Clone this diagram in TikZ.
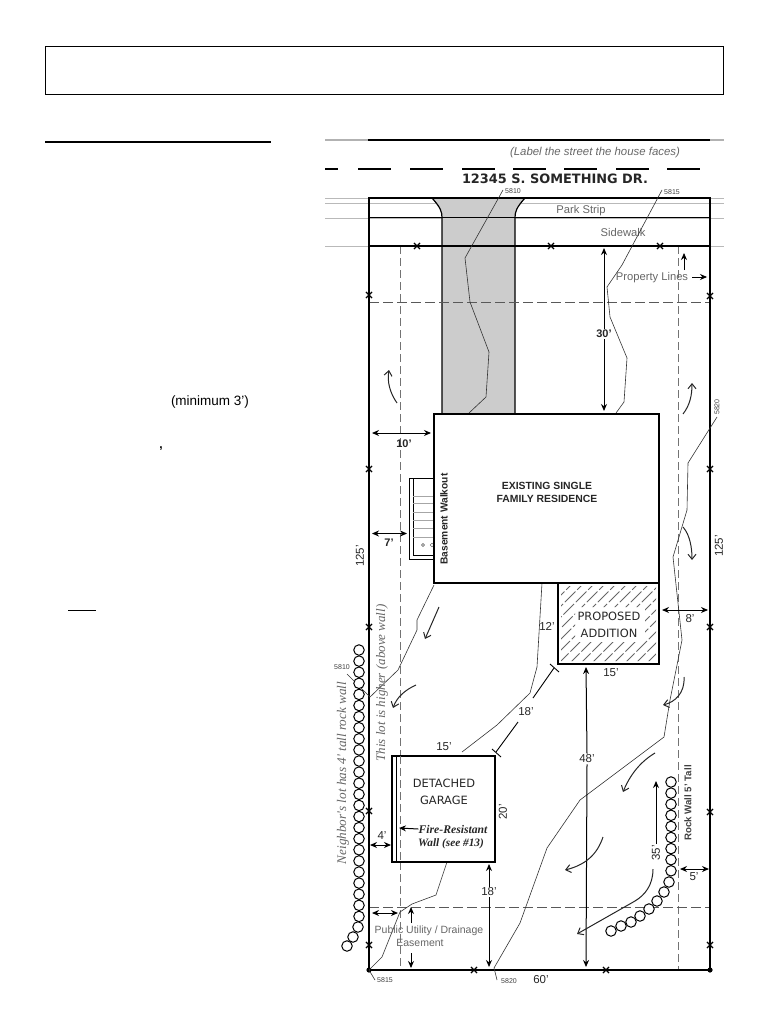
\documentclass[tikz,border=0pt]{standalone}
\usepackage{fontspec}
\setmainfont{Liberation Sans}
\newfontfamily\serifit{Liberation Serif}
\newfontfamily\sketchfont{DejaVu Sans}
\usetikzlibrary{arrows.meta}
\usetikzlibrary{shapes.misc}
\tikzset{>={Stealth[length=7pt,width=6pt]},
	lotline/.style={line width=1.8pt},
	setback/.style={dash pattern=on 8pt off 4pt, black!55, line width=.8pt},
	setbackh/.style={dash pattern=on 10pt off 4pt, black!65, line width=.8pt},
	contour/.style={line width=.6pt, black!80},
	dimline/.style={<->, line width=1pt},
	oneway/.style={->, line width=1pt},
	flow/.style={-{Straight Barb[length=5pt,width=8pt]}, line width=1pt, black!85}
}
\tikzstyle{xmark} = [draw, cross out, line width=1.1pt, minimum size=5pt, inner sep=0pt]
\tikzstyle{rock} = [draw, circle, line width=1pt, minimum size=10.5pt, inner sep=0pt, fill=white]
\tikzstyle{dimtext} = [font=\fontsize{11.5}{13}\selectfont, inner sep=1pt, text=black!85]
\tikzstyle{dimbold} = [font=\fontsize{11}{13}\selectfont\bfseries, inner sep=1pt, text=black!85]
\tikzstyle{graytext} = [font=\fontsize{11.2}{13}\selectfont, inner sep=1pt, text=black!60]
\tikzstyle{smalltext} = [font=\fontsize{7}{8}\selectfont, inner sep=0pt, text=black!75]
\tikzstyle{sketchtext} = [font=\sketchfont\fontsize{11.4}{13}\selectfont, inner sep=0pt, text=black!85]
\begin{document}
\begin{tikzpicture}[x=1pt,y=-1pt]
	\useasboundingbox (0,0) rectangle (768,1024);
	
	% left column
	\draw[line width=.9pt] (45.5,46) rectangle (723.5,94);
	\draw[line width=1.8pt] (45,142) -- (271,142);
	\node[font=\fontsize{13.5}{15}\selectfont, inner sep=0pt] (minimum) at (210,402) {(minimum 3')};
	\node[font=\fontsize{12}{14}\selectfont\bfseries, inner sep=0pt] (comma) at (161,449) {,};
	\draw[line width=.9pt] (68,610) -- (96,610);
	
	% street
	\draw[gray!60, line width=1.6pt] (325,140) -- (724,140);
	\draw[line width=2pt] (368,140) -- (710,140);
	\node[graytext, font=\fontsize{11.4}{13}\selectfont\itshape] (faces) at (595,153) {(Label the street the house faces)};
	\draw[line width=1.2pt] (325,169) -- (338,169);
	\foreach \sx in {358,410,462,513,564,616,667}
		\draw[line width=1.2pt] (\sx,169) -- ++(33,0);
	\node[sketchtext, font=\sketchfont\bfseries\fontsize{12.9}{14}\selectfont] (street) at (555,179) {12345 S. SOMETHING DR.};
	
	% gray lines past the lot
	\foreach \ly in {198,203,218,246}
		\draw[gray!55, line width=.8pt] (325,\ly) -- (724,\ly);
	
	% driveway
	\draw[fill=gray!40, draw=none] (432,198) .. controls (441,208) and (442,212) .. (442,218) -- (442,414) -- (515,414) -- (515,218) .. controls (515,212) and (516,208) .. (525,198) -- cycle;
	\draw[line width=1.2pt] (432,198) .. controls (441,208) and (442,212) .. (442,218) -- (442,414);
	\draw[line width=1.2pt] (525,198) .. controls (516,208) and (515,212) .. (515,218) -- (515,414);
	
	% setback lines
	\draw[setback] (400,246) -- (400,756);
	\draw[setback] (400,862) -- (400,970);
	\draw[setback] (678,246) -- (678,970);
	\draw[setbackh] (369,302) -- (710,302);
	\draw[setbackh] (369,907) -- (710,907);
	
	% lot
	\draw[lotline] (369,198) rectangle (710,970);
	\draw[line width=1pt] (369,218) -- (710,218);
	\draw[lotline] (369,246) -- (710,246);
	\foreach \mx/\my in {417/246,551/246,660/246,369/295,710/296,369/469,710/469,369/627,710/627,369/811,710/812,369/945,710/945,474/970,606/970}
		\node[xmark] (x\mx\my) at (\mx,\my) {};
	\fill (369,970) circle (2.6pt);
	\fill (710,970) circle (2.6pt);
	\node[graytext] (park) at (581,211) {Park Strip};
	\node[graytext] (walk) at (623,232) {Sidewalk};
	
	% contours
	\draw[contour] (503,190) -- (465,258) -- (470,302) -- (489,352) -- (486,397) -- (469,413);
	\draw[contour] (434,585) -- (417,620) -- (417,630) -- (398,670) -- (370,697) -- (347,674);
	\draw[contour] (662,190) -- (622,265) -- (607,287) -- (610,317) -- (627,358) -- (624,402) -- (616,413);
	\draw[contour] (542,583) -- (537,667) -- (530,693) -- (497,725) -- (462,752);
	\draw[contour] (447,862) -- (436,895) -- (412,904) -- (400,912) -- (382,957) -- (369,970) -- (375,980);
	\draw[contour] (717,417) -- (688,463) -- (687,510) -- (673,557) -- (682,640) -- (670,700) -- (664,737) -- (580,800) -- (547,848) -- (520,923) -- (494,968) -- (497,980);
	\node[smalltext] (c5810a) at (513,191) {5810};
	\node[smalltext] (c5815a) at (672,192) {5815};
	\node[smalltext, rotate=90] (c5820a) at (717,407) {5820};
	\node[smalltext] (c5810b) at (342,667) {5810};
	\node[smalltext] (c5815b) at (385,980) {5815};
	\node[smalltext] (c5820b) at (509,981) {5820};
	
	% stairs
	\draw[line width=.7pt, fill=white] (434,478) -- (409,478) -- (409,559) -- (434,559);
	\draw[line width=.7pt] (434,478) -- (413,478) -- (413,555) -- (434,555);
	\foreach \sy in {496,503,512,520,528,537}
		\draw[gray!70, line width=.5pt] (413,\sy) -- (434,\sy);
	\draw[black!70, line width=.4pt] (423,545) circle (1.5pt);
	\draw[black!70, line width=.4pt] (432,545) circle (1.8pt);
	
	% buildings
	\node[draw, line width=2pt, minimum width=225pt, minimum height=169pt, inner sep=0pt] (house) at (546.5,498.5) {};
	\node[font=\fontsize{10.4}{12}\selectfont\bfseries, inner sep=0pt, text=black!85] (exist1) at (547,486) {EXISTING SINGLE};
	\node[font=\fontsize{10.4}{12}\selectfont\bfseries, inner sep=0pt, text=black!85, below of=exist1, node distance=13pt] (exist2) {FAMILY RESIDENCE};
	\node[font=\fontsize{10.2}{11}\selectfont\bfseries, inner sep=0pt, rotate=90, text=black!85] (walkout) at (444,519) {Basement Walkout};
	
	\begin{scope}[even odd rule]
		\clip (561,586) rectangle (656,661) (575,607) rectangle (645,642);
		\foreach \hx in {0,...,17}
			\draw[black!60, line width=.8pt, dash pattern=on 15pt off 2.5pt] ({470+11*\hx},664) -- ++(100,-100);
	\end{scope}
	\node[draw, line width=2pt, minimum width=101pt, minimum height=81pt, inner sep=0pt] (addition) at (608.5,623.5) {};
	\node[sketchtext] (prop1) at (609,616) {PROPOSED};
	\node[sketchtext, below of=prop1, node distance=17pt] (prop2) {ADDITION};
	
	\node[draw, line width=2pt, minimum width=103pt, minimum height=106pt, inner sep=0pt] (garage) at (443.5,809) {};
	\draw[line width=.9pt] (396,756) -- (396,862);
	\draw[setback] (400,756) -- (400,862);
	\node[sketchtext] (det1) at (444,783) {DETACHED};
	\node[sketchtext, below of=det1, node distance=17pt] (det2) {GARAGE};
	\node[font=\serifit\itshape\bfseries\fontsize{11.7}{13}\selectfont, inner sep=0pt, text=black!85] (fire1) at (453,829) {Fire-Resistant};
	\node[font=\serifit\itshape\bfseries\fontsize{11.3}{13}\selectfont, inner sep=0pt, text=black!85] (fire2) at (451,844) {Wall (see \#13)};
	\draw[oneway] (fire1.west) -- (399,828);
	
	% rock walls
	\foreach \i in {0,...,24}
		\node[rock] (wallL\i) at (359,{650+11.1*\i}) {};
	\node[rock] (wallLa) at (358,927) {};
	\node[rock] (wallLb) at (353,937) {};
	\node[rock] (wallLc) at (347,946) {};
	\foreach \i in {0,...,8}
		\node[rock] (wallR\i) at (671,{782+11.1*\i}) {};
	\foreach \rx/\ry in {669/882,664/892,657/901,649/909,640/916,631/922,621/926,611/931}
		\node[rock] (wallR\rx) at (\rx,\ry) {};
	
	% dimensions
	\node[dimbold] (d30) at (604,334) {30'};
	\draw[oneway] (d30.north) -- (604,248);
	\draw[oneway] (d30.south) -- (604,411);
	\draw[dimline] (372,433) -- (431,433);
	\node[dimbold] (d10) at (404,444) {10'};
	\draw[dimline] (372,533.5) -- (407,533.5);
	\node[dimbold] (d7) at (389,543) {7'};
	\node[dimtext, rotate=90] (d125a) at (360,556) {125'};
	\node[dimtext, rotate=90] (d125b) at (719,546) {125'};
	\draw[dimline] (662,610) -- (708,610);
	\node[dimtext] (d8) at (690,619) {8'};
	\node[dimtext] (d15a) at (611,673) {15'};
	\node[dimtext] (d12) at (547,626) {12'};
	\node[dimtext] (d18a) at (526,712) {18'};
	\draw[line width=.9pt] (533,698) -- (554,668);
	\draw[line width=.9pt] (550,664) -- (559,672);
	\draw[line width=.9pt] (518,722) -- (496,752);
	\draw[line width=.9pt] (492,749) -- (501,757);
	\node[dimtext] (d48) at (587,759) {48'};
	\draw[oneway] (d48.north) -- (586,667);
	\draw[oneway] (d48.south) -- (586,967);
	\node[dimtext] (d15b) at (444,747) {15'};
	\node[dimtext, rotate=90] (d20) at (503,812) {20'};
	\draw[dimline] (370,845) -- (391,845);
	\node[dimtext] (d4) at (382,836) {4'};
	\node[dimtext] (d18b) at (489,892) {18'};
	\draw[oneway] (d18b.north) -- (489,864);
	\draw[oneway] (d18b.south) -- (489,967);
	\node[dimtext, rotate=90] (d35) at (656,853) {35'};
	\draw[oneway] (d35.east) -- (656,781);
	\draw[dimline] (680,869) -- (709,869);
	\node[dimtext] (d5) at (694,877) {5'};
	\node[dimtext] (d60) at (541,980) {60'};
	
	% easement
	\draw[dimline] (372,913) -- (398,913);
	\node[graytext, font=\fontsize{10.5}{12}\selectfont] (util) at (429,931) {Public Utility / Drainage};
	\node[graytext, font=\fontsize{10.5}{12}\selectfont] (ease) at (420,943) {Easement};
	\draw[oneway] (411,923) -- (411,907);
	\draw[oneway] (411,953) -- (411,968);
	
	% property lines
	\node[graytext] (prop) at (652,278) {Property Lines};
	\draw[oneway, line width=.8pt] (692,277) -- (707,277);
	\draw[oneway, line width=.8pt] (684,270) -- (684,253);
	
	% notes on the left side
	\node[font=\serifit\itshape\fontsize{13.2}{15}\selectfont, rotate=90, inner sep=0pt, text=black!60] (neigh) at (343,773) {Neighbor's lot has 4' tall rock wall};
	\node[font=\serifit\itshape\fontsize{13}{15}\selectfont, rotate=90, inner sep=0pt, text=black!60] (higher) at (382,683) {This lot is higher (above wall)};
	\node[font=\fontsize{9.7}{11}\selectfont\bfseries, rotate=90, inner sep=0pt, text=black!75] (rockw) at (688,803) {Rock Wall 5' Tall};
	
	% draw flow arrows
	\draw[flow] (397,403) .. controls (390,393) and (387,382) .. (389,370);
	\draw[flow] (683,414) .. controls (690,405) and (692,395) .. (692,383);
	\draw[flow] (683,527) .. controls (690,535) and (692,548) .. (692,560);
	\draw[flow] (439,607) -- (425,639);
	\draw[flow] (416,685) .. controls (405,690) and (397,697) .. (393,708);
	\draw[flow] (684,677) .. controls (685,693) and (675,702) .. (663,705);
	\draw[flow] (655,753) .. controls (640,762) and (630,775) .. (623,792);
	\draw[flow] (603,837) .. controls (597,855) and (585,865) .. (565,870);
	\draw[flow] (653,869) .. controls (653,885) and (645,895) .. (635,901) -- (577,934);
\end{tikzpicture}
\end{document}
